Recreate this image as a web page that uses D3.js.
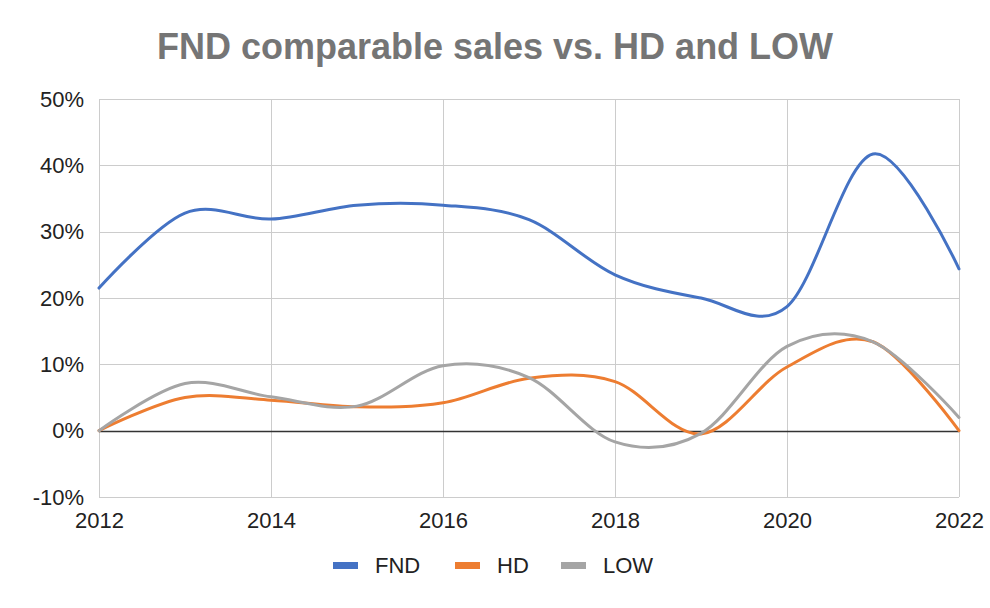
<!DOCTYPE html>
<html>
<head>
<meta charset="utf-8">
<script src="https://cdn.jsdelivr.net/npm/d3@7"></script>
<style>
  html, body { margin: 0; padding: 0; background: #fff; }
  svg { display: block; font-family: "Liberation Sans", Arial, sans-serif; }
</style>
</head>
<body>
<svg id="chart" width="990" height="608"></svg>
<script>
const years = [2012, 2013, 2014, 2015, 2016, 2017, 2018, 2019, 2020, 2021, 2022];
const seriesNames = ["FND", "HD", "LOW"];
const fndValues = [21.5, 32.8, 31.9, 34.0, 34.0, 31.8, 23.5, 20.0, 18.7, 41.7, 24.4];
const hdValues  = [0.0, 5.0, 4.6, 3.6, 4.2, 7.9, 7.4, -0.5, 9.6, 13.4, 0.0];
const lowValues = [0.0, 7.1, 5.1, 3.7, 9.8, 8.0, -1.7, -0.4, 12.7, 13.4, 2.0];
const yTicks = [-10, 0, 10, 20, 30, 40, 50];
const xTicks = [2012, 2014, 2016, 2018, 2020, 2022];
const colors = ["#4472c4", "#ed7d31", "#a5a5a5"];
const titleText = "FND comparable sales vs. HD and LOW";

const svg = d3.select("#chart");
const W = 990, H = 608;
const plot = { left: 99, right: 959, top: 99, bottom: 497 };

const x = d3.scaleLinear().domain([2012, 2022]).range([plot.left, plot.right]);
const y = d3.scaleLinear().domain([-10, 50]).range([plot.bottom, plot.top]);

// Title
svg.append("text")
  .attr("x", W / 2).attr("y", 59)
  .attr("text-anchor", "middle")
  .attr("font-size", 36).attr("font-weight", "bold")
  .attr("fill", "#757575")
  .text(titleText);

// Grid
const grid = svg.append("g");
grid.selectAll("line.h").data(yTicks).join("line")
  .attr("x1", plot.left).attr("x2", plot.right)
  .attr("y1", d => Math.round(y(d)) + 0.5).attr("y2", d => Math.round(y(d)) + 0.5)
  .attr("stroke", "#cccccc").attr("stroke-width", 1);
grid.selectAll("line.v").data(xTicks).join("line")
  .attr("y1", plot.top).attr("y2", plot.bottom)
  .attr("x1", d => Math.round(x(d)) + 0.5).attr("x2", d => Math.round(x(d)) + 0.5)
  .attr("stroke", "#cccccc").attr("stroke-width", 1);

// Zero baseline
svg.append("line")
  .attr("x1", plot.left).attr("x2", plot.right)
  .attr("y1", Math.round(y(0)) + 0.5).attr("y2", Math.round(y(0)) + 0.5)
  .attr("stroke", "#333333").attr("stroke-width", 1.3);

// Y axis labels
const yAxis = d3.axisLeft(y).tickValues(yTicks).tickFormat(d => d + "%").tickSize(0).tickPadding(15);
const yg = svg.append("g").attr("transform", `translate(${plot.left},0)`).call(yAxis);
yg.select(".domain").remove();
yg.selectAll("text").attr("font-size", 22).attr("fill", "#222")
  .attr("font-family", "Liberation Sans, Arial, sans-serif");

// X axis labels
const xAxis = d3.axisBottom(x).tickValues(xTicks).tickFormat(d3.format("d")).tickSize(0).tickPadding(15);
const xg = svg.append("g").attr("transform", `translate(0,${plot.bottom})`).call(xAxis);
xg.select(".domain").remove();
xg.selectAll("text").attr("font-size", 22).attr("fill", "#222")
  .attr("font-family", "Liberation Sans, Arial, sans-serif");

// Lines
const allSeries = [fndValues, hdValues, lowValues];
const line = d3.line()
  .x((d, i) => x(years[i]))
  .y(d => y(d))
  .curve(d3.curveCardinal.tension(0));

svg.append("g").selectAll("path").data(allSeries).join("path")
  .attr("d", d => line(d))
  .attr("fill", "none")
  .attr("stroke", (d, i) => colors[i])
  .attr("stroke-width", 3)
  .attr("stroke-linejoin", "round")
  .attr("stroke-linecap", "round");

// Legend
const legendX = [333, 455, 561];
const lg = svg.append("g");
seriesNames.forEach((name, i) => {
  lg.append("rect")
    .attr("x", legendX[i]).attr("y", 562)
    .attr("width", 25).attr("height", 7)
    .attr("fill", colors[i]);
  lg.append("text")
    .attr("x", legendX[i] + 42).attr("y", 573)
    .attr("font-size", 22).attr("fill", "#222")
    .text(name);
});
</script>
</body>
</html>
